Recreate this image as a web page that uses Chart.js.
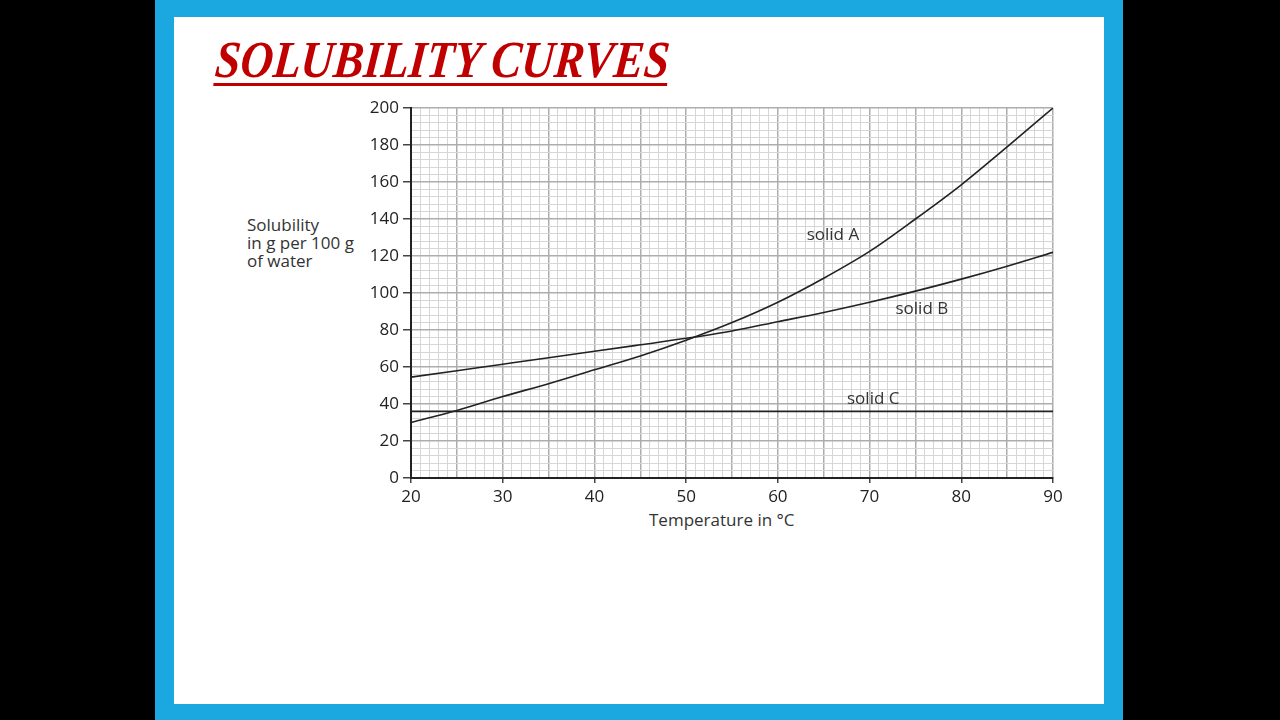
<!DOCTYPE html>
<html lang="en">
<head>
    <meta charset="UTF-8">
    <title>Solubility curves</title>
    <style>
        html, body {
            margin: 0;
            padding: 0;
            width: 1280px;
            height: 720px;
            background: #000;
            overflow: hidden;
        }
        .frame {
            position: absolute;
            left: 155px;
            top: 0;
            width: 968px;
            height: 720px;
            background: #1ba8e0;
        }
        .slide {
            position: absolute;
            left: 174px;
            top: 17px;
            width: 930px;
            height: 687px;
            background: #fff;
        }
        .title {
            position: absolute;
            left: 218px;
            top: 34px;
            font-family: 'Liberation Serif', serif;
            font-weight: bold;
            font-style: italic;
            font-size: 52px;
            line-height: 52px;
            color: #c00000;
            text-decoration: underline;
            text-decoration-thickness: 3px;
            text-underline-offset: 6px;
            white-space: nowrap;
            transform: scaleX(0.87) skewX(-6deg);
            transform-origin: left top;
        }
        .label {
            position: absolute;
            font-family: 'Open Sans', sans-serif;
            font-size: 17px;
            line-height: 18px;
            color: #333;
            white-space: nowrap;
        }
        #ylabel { left: 247px; top: 216px; }
        #xlabel { left: 649px; top: 511px; }
        #chartBox {
            position: absolute;
            left: 300px;
            top: 90px;
            width: 790px;
            height: 450px;
        }
    </style>
</head>
<body>
    <div class="frame"></div>
    <div class="slide"></div>
    <div class="title">SOLUBILITY CURVES</div>
    <div class="label" id="ylabel">Solubility<br>in g per 100 g<br>of water</div>
    <div class="label" id="xlabel">Temperature in °C</div>
    <div id="chartBox"><canvas id="solChart"></canvas></div>

    <script src="https://cdn.jsdelivr.net/npm/chart.js"></script>
    <script>
        // values
        const temps  = [20, 25, 30, 35, 40, 45, 50, 55, 60, 65, 70, 75, 80, 85, 90];
        const solidA = [30, 36.5, 44, 51, 58.5, 66, 74.5, 84, 95, 108, 122.5, 140, 158.5, 179, 200];
        const solidB = [54.5, 58, 61.5, 65, 68.5, 72, 75.5, 79.5, 84.5, 89.5, 95, 101, 107.5, 114.5, 122];
        const solidC = [36, 36, 36, 36, 36, 36, 36, 36, 36, 36, 36, 36, 36, 36, 36];
        const seriesNames = ['solid A', 'solid B', 'solid C'];
        // where each name is written on the chart (temperature, solubility)
        const labelAt = [[66, 131], [75.7, 91], [70.4, 42.5]];

        const xTicks = [20, 30, 40, 50, 60, 70, 80, 90];
        const yTicks = [0, 20, 40, 60, 80, 100, 120, 140, 160, 180, 200];

        function pts(vals) {
            return temps.map((t, i) => ({ x: t, y: vals[i] }));
        }

        function lineSet(name, vals) {
            return {
                label: name,
                data: pts(vals),
                borderColor: '#222',
                borderWidth: 1.6,
                pointRadius: 0,
                fill: false,
                cubicInterpolationMode: 'monotone'
            };
        }

        const seriesLabels = {
            id: 'seriesLabels',
            afterDatasetsDraw(chart) {
                const ctx = chart.ctx;
                const sx = chart.scales.x, sy = chart.scales.y;
                ctx.save();
                ctx.font = '17px "Open Sans"';
                ctx.fillStyle = '#333';
                ctx.textAlign = 'center';
                ctx.textBaseline = 'middle';
                seriesNames.forEach((n, i) => {
                    ctx.fillText(n, sx.getPixelForValue(labelAt[i][0]), sy.getPixelForValue(labelAt[i][1]));
                });
                ctx.restore();
            }
        };

        new Chart(document.getElementById('solChart'), {
            type: 'line',
            data: {
                datasets: [
                    lineSet(seriesNames[0], solidA),
                    lineSet(seriesNames[1], solidB),
                    lineSet(seriesNames[2], solidC)
                ]
            },
            options: {
                responsive: true,
                maintainAspectRatio: false,
                animation: false,
                layout: { padding: { top: 18, right: 37, left: 0, bottom: 0 } },
                plugins: {
                    legend: { display: false },
                    tooltip: { enabled: false }
                },
                scales: {
                    x: {
                        type: 'linear',
                        min: 20,
                        max: 90,
                        afterFit: s => { s.height = 62; },
                        border: { display: true, color: '#222', width: 2 },
                        grid: {
                            color: c => c.tick.value % 5 === 0 ? '#adadad' : '#d6d6d6',
                            lineWidth: c => c.tick.value % 5 === 0 ? 1.5 : 1,
                            tickColor: c => xTicks.includes(c.tick.value) ? '#444' : 'rgba(0,0,0,0)',
                            tickLength: 5
                        },
                        ticks: {
                            stepSize: 1,
                            autoSkip: false,
                            maxRotation: 0,
                            padding: 4,
                            color: '#222',
                            font: { family: 'Open Sans', size: 17 },
                            callback: v => xTicks.includes(v) ? v : ''
                        }
                    },
                    y: {
                        min: 0,
                        max: 200,
                        afterFit: s => { s.width = 111; },
                        border: { display: true, color: '#222', width: 2 },
                        grid: {
                            color: c => yTicks.includes(c.tick.value) ? '#adadad' : '#d6d6d6',
                            lineWidth: c => yTicks.includes(c.tick.value) ? 1.5 : 1,
                            tickColor: c => yTicks.includes(c.tick.value) ? '#444' : 'rgba(0,0,0,0)',
                            tickLength: 8
                        },
                        ticks: {
                            stepSize: 4,
                            autoSkip: false,
                            padding: 4,
                            color: '#222',
                            font: { family: 'Open Sans', size: 17 },
                            callback: v => yTicks.includes(v) ? v : ''
                        }
                    }
                }
            },
            plugins: [seriesLabels]
        });
    </script>
</body>
</html>
